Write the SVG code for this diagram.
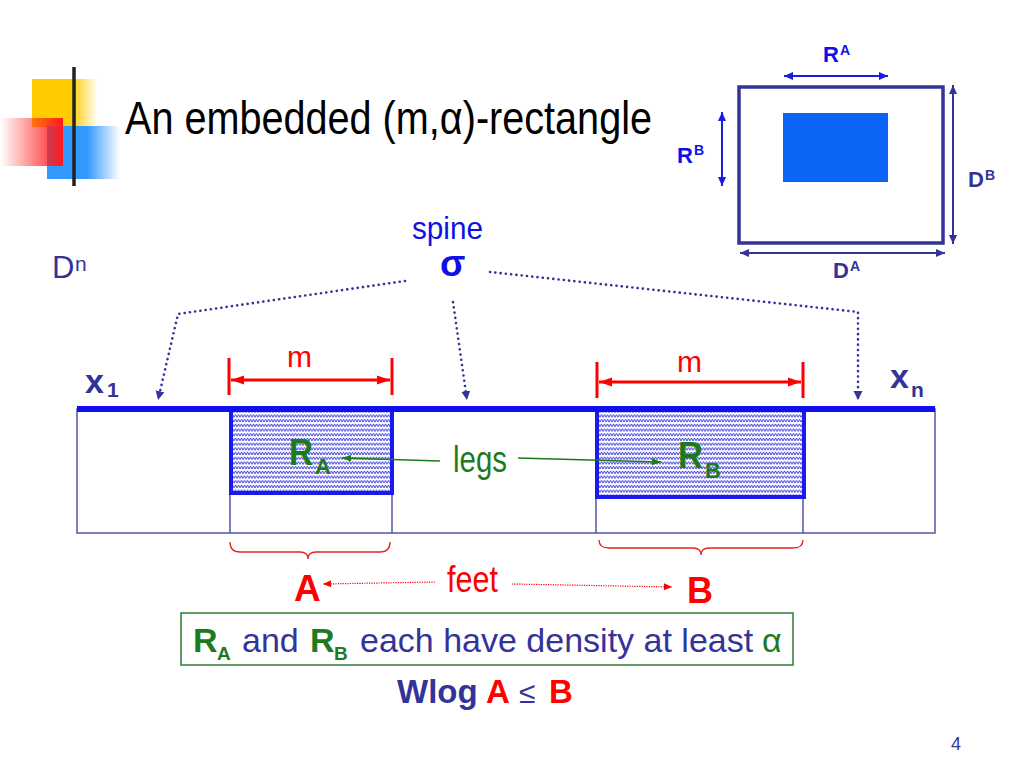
<svg xmlns="http://www.w3.org/2000/svg" width="1024" height="768" viewBox="0 0 1024 768">
<defs>
<style>
text{font-family:"Liberation Sans",Arial,sans-serif;}
.navy{fill:#333399;}
.b{font-weight:bold;}
.red{fill:#ff0000;}
.green{fill:#1e7a1e;}
.blue{fill:#1010e6;}
.dot{fill:none;stroke:#333399;stroke-width:2.6;stroke-linecap:round;stroke-dasharray:0.1 5.2;}
.thin{fill:none;stroke:#5555aa;stroke-width:1.5;}
.brace{fill:none;stroke:#e8211f;stroke-width:1.3;}
</style>
<linearGradient id="gline" x1="0" y1="0" x2="1" y2="0"><stop offset="0" stop-color="#1a1a1a"/><stop offset="0.35" stop-color="#555"/><stop offset="1" stop-color="#e6e6e6"/></linearGradient>
<linearGradient id="gyel" x1="0" y1="0" x2="1" y2="0"><stop offset="0" stop-color="#ffcc00"/><stop offset="0.6" stop-color="#ffcc00"/><stop offset="1" stop-color="#ffcc00" stop-opacity="0"/></linearGradient>
<linearGradient id="gblu" x1="0" y1="0" x2="1" y2="0"><stop offset="0" stop-color="#3399ff"/><stop offset="0.55" stop-color="#3399ff"/><stop offset="1" stop-color="#3399ff" stop-opacity="0"/></linearGradient>
<linearGradient id="gred" x1="0" y1="0" x2="1" y2="0"><stop offset="0" stop-color="#ff2020" stop-opacity="0"/><stop offset="1" stop-color="#ff1a1a"/></linearGradient>
<pattern id="wave" width="6" height="4.7" patternUnits="userSpaceOnUse"><rect width="6" height="4.7" fill="#fff"/><path d="M0,3.8 L1.5,0.9 L3,3.8 L4.5,0.9 L6,3.8" fill="none" stroke="#3030dd" stroke-width="0.9"/></pattern>
<marker id="hr" markerUnits="userSpaceOnUse" markerWidth="14" markerHeight="10" refX="13" refY="5" orient="auto-start-reverse"><path d="M0,0.5 L13,5 L0,9.5 z" fill="#ff0000"/></marker>
<marker id="hn" markerUnits="userSpaceOnUse" markerWidth="10" markerHeight="10" refX="9" refY="4.5" orient="auto"><path d="M0,0 L9,4.5 L0,9 z" fill="#333399"/></marker>
<marker id="hb" markerUnits="userSpaceOnUse" markerWidth="10" markerHeight="10" refX="9" refY="4" orient="auto-start-reverse"><path d="M0,0 L9,4 L0,8 z" fill="#1a1ae0"/></marker>
<marker id="hd" markerUnits="userSpaceOnUse" markerWidth="10" markerHeight="10" refX="9" refY="4" orient="auto-start-reverse"><path d="M0,0 L9,4 L0,8 z" fill="#333399"/></marker>
<marker id="hg" markerUnits="userSpaceOnUse" markerWidth="10" markerHeight="10" refX="9" refY="3.5" orient="auto"><path d="M0,0 L9,3.5 L0,7 z" fill="#1e7a1e"/></marker>
<marker id="hf" markerUnits="userSpaceOnUse" markerWidth="10" markerHeight="10" refX="8" refY="3.5" orient="auto"><path d="M0,0 L8,3.5 L0,7 z" fill="#ff0000"/></marker>
</defs>
<rect width="1024" height="768" fill="#fff"/>

<g id="title">
<rect x="32" y="79" width="66" height="48" fill="url(#gyel)"/>
<rect x="47" y="126" width="73" height="53" fill="url(#gblu)"/>
<rect x="0" y="118" width="63" height="48" fill="url(#gred)"/>
<line x1="35" y1="157" x2="738" y2="157" stroke="url(#gline)" stroke-width="4"/>
<line x1="74" y1="67" x2="74" y2="186" stroke="#222" stroke-width="3.5"/>
<text x="125" y="134" font-size="47" fill="#000" textLength="527" lengthAdjust="spacingAndGlyphs">An embedded (m,α)-rectangle</text>
</g>

<g id="inset">
<rect x="739" y="87" width="204" height="156" fill="#fff" stroke="#333399" stroke-width="3.5"/>
<rect x="783" y="113" width="105" height="69" fill="#0a64f5"/>
<text class="blue b" x="823" y="62" font-size="22">R</text><text class="blue b" x="840" y="55" font-size="14">A</text>
<text class="blue b" x="677" y="163" font-size="22">R</text><text class="blue b" x="694" y="155" font-size="14">B</text>
<text class="navy b" x="968" y="187" font-size="22">D</text><text class="navy b" x="985" y="180" font-size="14">B</text>
<text class="navy b" x="833" y="278" font-size="22">D</text><text class="navy b" x="850" y="271" font-size="14">A</text>
</g>

<g id="inset-arrows">
<line x1="784" y1="76" x2="888" y2="76" stroke="#1a1ae0" stroke-width="2" marker-start="url(#hb)" marker-end="url(#hb)"/>
<line x1="722" y1="112" x2="722" y2="186" stroke="#1a1ae0" stroke-width="2" marker-start="url(#hb)" marker-end="url(#hb)"/>
<line x1="953" y1="85" x2="953" y2="244" stroke="#333399" stroke-width="2" marker-start="url(#hd)" marker-end="url(#hd)"/>
<line x1="740" y1="253" x2="945" y2="253" stroke="#333399" stroke-width="2" marker-start="url(#hd)" marker-end="url(#hd)"/>
</g>

<g id="labels">
<text class="navy" x="52" y="278" font-size="31">D</text><text class="navy" x="75" y="271" font-size="21">n</text>
<text class="blue" x="412" y="239" font-size="32" textLength="71" lengthAdjust="spacingAndGlyphs">spine</text>
<text class="blue b" x="440" y="276" font-size="37">σ</text>
<text class="navy b" x="85" y="393" font-size="34">x</text><text class="navy b" x="107" y="397" font-size="21">1</text>
<text class="navy b" x="890" y="388" font-size="34">x</text><text class="navy b" x="911" y="397" font-size="21">n</text>
<text class="red" x="287" y="367" font-size="30">m</text>
<text class="red" x="677" y="372" font-size="30">m</text>
</g>

<g id="dimensions">
<line x1="229" y1="358" x2="229" y2="395" stroke="#ff0000" stroke-width="3"/>
<line x1="392" y1="358" x2="392" y2="395" stroke="#ff0000" stroke-width="3"/>
<line x1="231" y1="380" x2="390" y2="380" stroke="#ff0000" stroke-width="3" marker-start="url(#hr)" marker-end="url(#hr)"/>
<line x1="597" y1="362" x2="597" y2="398" stroke="#ff0000" stroke-width="3"/>
<line x1="803" y1="362" x2="803" y2="398" stroke="#ff0000" stroke-width="3"/>
<line x1="599" y1="382" x2="801" y2="382" stroke="#ff0000" stroke-width="3" marker-start="url(#hr)" marker-end="url(#hr)"/>
</g>

<g id="space">
<rect x="77" y="409" width="858" height="124" class="thin"/>
<line x1="230" y1="494" x2="230" y2="533" class="thin" stroke-width="1.2"/>
<line x1="392" y1="494" x2="392" y2="533" class="thin" stroke-width="1.2"/>
<line x1="596" y1="498" x2="596" y2="533" class="thin" stroke-width="1.2"/>
<line x1="803" y1="498" x2="803" y2="533" class="thin" stroke-width="1.2"/>
</g>

<g id="leg-A">
<rect x="231" y="410" width="161" height="83" fill="url(#wave)" stroke="#1a1aee" stroke-width="4"/>
<text class="green b" x="289" y="465" font-size="37" textLength="24" lengthAdjust="spacingAndGlyphs">R</text><text class="green b" x="315" y="474" font-size="22">A</text>
</g>
<g id="leg-B">
<rect x="597" y="410" width="207" height="87" fill="url(#wave)" stroke="#1a1aee" stroke-width="4"/>
<text class="green b" x="678" y="468" font-size="37" textLength="25" lengthAdjust="spacingAndGlyphs">R</text><text class="green b" x="705" y="478" font-size="22">B</text>
</g>

<g id="spine">
<line x1="77" y1="409" x2="935" y2="409" stroke="#1010ee" stroke-width="6"/>
</g>

<g id="legs-label">
<text class="green" x="453" y="472" font-size="37" textLength="54" lengthAdjust="spacingAndGlyphs">legs</text>
</g>

<g id="feet">
<path class="brace" d="M230,542 Q230,552 240,552 L300,552 Q308,552 308,559 Q308,552 316,552 L380,552 Q390,552 390,542"/>
<path class="brace" d="M599,540 Q599,548 609,548 L693,548 Q701,548 701,555 Q701,548 709,548 L793,548 Q803,548 803,540"/>
<text class="red b" x="294" y="601" font-size="37">A</text>
<text class="red b" x="687" y="603" font-size="36">B</text>
<text class="red" x="447" y="592" font-size="36" textLength="51" lengthAdjust="spacingAndGlyphs">feet</text>
</g>

<g id="connectors">
<polyline class="dot" points="405,281 178,314 158,400" marker-end="url(#hn)"/>
<polyline class="dot" points="453,302 467,400" marker-end="url(#hn)"/>
<polyline class="dot" points="490,272 858,312 858,400" marker-end="url(#hn)"/>
<line x1="440" y1="461" x2="342" y2="458" stroke="#1e7a1e" stroke-width="1.5" marker-end="url(#hg)"/>
<line x1="518" y1="458" x2="661" y2="462" stroke="#1e7a1e" stroke-width="1.5" marker-end="url(#hg)"/>
<line x1="435" y1="582" x2="323" y2="584" stroke="#ff0000" stroke-width="1.2" stroke-dasharray="1.2 1.2" marker-end="url(#hf)"/>
<line x1="512" y1="584" x2="672" y2="587" stroke="#ff0000" stroke-width="1.2" stroke-dasharray="1.2 1.2" marker-end="url(#hf)"/>
</g>

<g id="density-box">
<rect x="181" y="613" width="612" height="52" fill="#fff" stroke="#2f7d2f" stroke-width="1.5"/>
<text class="green b" x="193" y="652" font-size="34">R</text><text class="green b" x="217" y="660" font-size="19">A</text>
<text class="navy" x="242" y="652" font-size="34">and</text>
<text class="green b" x="310" y="652" font-size="34">R</text><text class="green b" x="334" y="660" font-size="19">B</text>
<text class="navy" x="360" y="652" font-size="34">each have density at least</text>
<text class="green" x="762" y="652" font-size="34">α</text>
</g>

<g id="wlog">
<text class="navy b" x="397" y="703" font-size="33">Wlog</text>
<text class="red b" x="486" y="703" font-size="33">A</text>
<text class="navy" x="519" y="703" font-size="30">≤</text>
<text class="red b" x="549" y="703" font-size="33">B</text>
</g>

<text class="navy" x="951" y="750" font-size="18">4</text>
</svg>
